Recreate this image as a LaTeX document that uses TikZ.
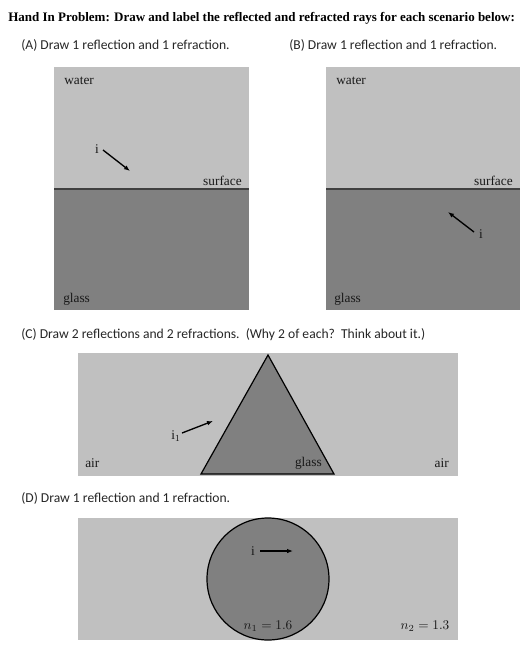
\documentclass[tikz,border=0pt]{standalone}
\usepackage{fontspec}
\setmainfont{Liberation Serif}
\newfontfamily\questionfont{Carlito}
\usepackage{tikz}
\usetikzlibrary{arrows.meta, positioning, calc}

\definecolor{airgray}{RGB}{192,192,192}
\definecolor{glassgray}{RGB}{128,128,128}

\begin{document}
\begin{tikzpicture}[x=0.75pt, y=-0.75pt, every node/.style={inner sep=0pt},
    question/.style={anchor=west, font=\questionfont\fontsize{10.2}{12}\selectfont, text=black!85},
    medium/.style={font=\fontsize{10}{12}\selectfont, text=black!90},
    ray/.style={-{Latex[length=4.5pt, width=3.5pt]}, line width=1pt}]
        \useasboundingbox (0,0) rectangle (532,662);

        % Define the headings
        \node[anchor=west, font=\bfseries\fontsize{9.75}{11}\selectfont] (title) at (8,18) {Hand In Problem: Draw and label the reflected and refracted rays for each scenario below:};
        \node[question] (qA) at (21,45) {(A) Draw 1 reflection and 1 refraction.};
        \node[question] (qB) at (289,45) {(B) Draw 1 reflection and 1 refraction.};
        \node[question] (qC) at (21,335) {(C) Draw 2 reflections and 2 refractions.\ \ (Why 2 of each?\ \ Think about it.)};
        \node[question] (qD) at (21,498) {(D) Draw 1 reflection and 1 refraction.};

        % Panel A: water above glass
        \fill[airgray] (54,67) rectangle (249,189);
        \fill[glassgray] (54,189) rectangle (249,310);
        \draw[line width=1.5pt, black!75] (54,189) -- (249,189);
        \node[medium, anchor=west] (waterA) at (64,81) {water};
        \node[medium, anchor=east] (surfaceA) at (242,181) {surface};
        \node[medium, anchor=west] (glassA) at (63,299) {glass};
        \node[medium] (iA) at (97,149) {i};
        \coordinate (iAstart) at (103,150);
        \coordinate (iAend) at (130,171);
        \draw[ray] (iAstart) -- (iAend);

        % Panel B: ray coming up from the glass
        \fill[airgray] (326,67) rectangle (520,189);
        \fill[glassgray] (326,189) rectangle (520,310);
        \draw[line width=1.5pt, black!75] (326,189) -- (520,189);
        \node[medium, anchor=west] (waterB) at (336,81) {water};
        \node[medium, anchor=east] (surfaceB) at (513,181) {surface};
        \node[medium, anchor=west] (glassB) at (334,299) {glass};
        \node[medium] (iB) at (481,234) {i};
        \coordinate (iBstart) at (474,232);
        \coordinate (iBend) at (448,212);
        \draw[ray] (iBstart) -- (iBend);

        % Panel C: glass prism in air
        \fill[airgray] (78,353) rectangle (458,476);
        \draw[fill=glassgray, line width=0.9pt] (268,355) -- (334,474) -- (201,474) -- cycle;
        \node[medium, anchor=west] (airCleft) at (85,463) {air};
        \node[medium, anchor=east] (glassC) at (322,463) {glass};
        \node[medium, anchor=east] (airCright) at (449,463) {air};
        \node[medium] (iC) at (176,436) {i\textsubscript{1}};
        \coordinate (iCstart) at (182,433);
        \coordinate (iCend) at (213,421);
        \draw[ray] (iCstart) -- (iCend);

        % Panel D: glass ball
        \fill[airgray] (78,518) rectangle (458,640);
        \draw[fill=glassgray, line width=0.9pt] (268,579) circle[radius=61];
        \node[medium] (nOne) at (268,626) {$n_1 = 1.6$};
        \node[medium] (nTwo) at (425,626) {$n_2 = 1.3$};
        \node[medium] (iD) at (253,551) {i};
        \coordinate (iDstart) at (260,551);
        \coordinate (iDend) at (293,551);
        \draw[ray] (iDstart) -- (iDend);

    \end{tikzpicture}
\end{document}
